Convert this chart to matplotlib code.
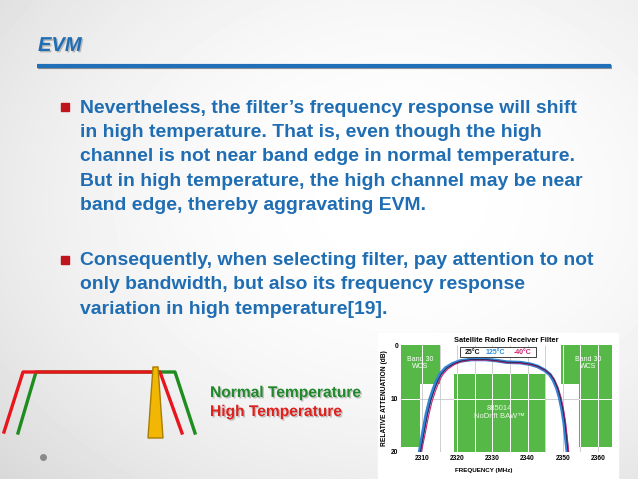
import numpy as np
import matplotlib
matplotlib.use("Agg")
import matplotlib.pyplot as plt
import matplotlib.patheffects as pe
from matplotlib.patches import Rectangle, Polygon

plt.rcParams['font.family'] = ['Liberation Sans', 'DejaVu Sans']

# ---- slide text ----
title = "EVM"
bullet1 = ["Nevertheless, the filter\u2019s frequency response will shift",
           "in high temperature. That is, even though the high",
           "channel is not near band edge in normal temperature.",
           "But in high temperature, the high channel may be near",
           "band edge, thereby aggravating EVM."]
bullet2 = ["Consequently, when selecting filter, pay attention to not",
           "only bandwidth, but also its frequency response",
           "variation in high temperature[19]."]
legend_labels = ["Normal Temperature", "High Temperature"]

# ---- sketch (band edges at normal / high temperature) ----
normal_x = [18, 36, 175, 195]
normal_y = [7, 68, 68, 7]
high_x = [4, 23, 160, 182]
high_y = [8, 68, 68, 7]
channel_x = [148, 153, 158, 163]
channel_y = [2, 73, 73, 2]

# ---- filter chart data ----
chart_title = "Satellite Radio Receiver Filter"
freq_ticks = [2310, 2320, 2330, 2340, 2350, 2360]
att_ticks = [0, 10, 20]
block_left = [2304, 2304, 2349.5, 2354.5, 2319.2]
block_right = [2315, 2309.3, 2364, 2364, 2345]
block_top = [0, 0, 0, 0, 5.4]
block_bottom = [7.3, 19, 7.3, 19, 20]

f_25 = [2309.5, 2310.5, 2311.5, 2312.5, 2313.5, 2314.5, 2315.5, 2317, 2319, 2321,
        2324, 2328, 2331, 2334, 2338, 2341, 2343, 2345, 2346.5, 2347.5, 2348.5,
        2349.3, 2350, 2350.6, 2351.1, 2351.5]
a_25 = [20, 16.5, 13, 10.3, 8.3, 6.6, 5.4, 4.3, 3.5, 3.0, 2.7, 2.7, 2.9, 3.2, 3.3,
        3.6, 4.0, 4.7, 5.5, 6.5, 8.0, 9.8, 12, 14.5, 17.5, 20]
f_125 = [2309.3, 2310.2, 2311.2, 2312.2, 2313.2, 2314.2, 2315.2, 2316.7, 2318.7, 2320.8,
         2324, 2328, 2331, 2334, 2338, 2340.8, 2342.8, 2344.8, 2346.3, 2347.3, 2348.3,
         2349.1, 2349.8, 2350.4, 2350.9, 2351.3]
a_125 = [20, 16.5, 13, 10.3, 8.3, 6.6, 5.4, 4.3, 3.5, 3.0, 2.7, 2.7, 2.9, 3.2, 3.3,
         3.6, 4.0, 4.7, 5.5, 6.5, 8.0, 9.8, 12, 14.5, 17.5, 20]
f_m40 = [2309.8, 2310.8, 2311.8, 2312.8, 2313.8, 2314.8, 2315.8, 2317.3, 2319.3, 2321.2,
         2324, 2328, 2331, 2334, 2338, 2341.2, 2343.2, 2345.2, 2346.7, 2347.7, 2348.7,
         2349.5, 2350.2, 2350.8, 2351.3, 2351.7]
a_m40 = [20, 16.8, 13.4, 10.6, 8.6, 6.9, 5.6, 4.5, 3.6, 3.1, 2.8, 2.8, 3.0, 3.3, 3.4,
         3.7, 4.1, 4.8, 5.6, 6.6, 8.1, 9.9, 12, 14.5, 17.5, 20]
temp_labels = ["25\u00b0C", "125\u00b0C", "-40\u00b0C"]
temp_colors = ["#111111", "#2b8fd6", "#d2206e"]
temp_pos = [2324.2, 2330.7, 2338.7]

blue = "#1f6db3"
green_fill = "#56b947"

fig = plt.figure(figsize=(6.38, 4.79), dpi=100)

# background slide in pixel coordinates
ax = fig.add_axes([0, 0, 1, 1])
ax.set_xlim(0, 638)
ax.set_ylim(479, 0)
ax.axis('off')
yy, xx = np.mgrid[0:479, 0:638]
r = np.hypot((xx - 400) / 500, (yy - 200) / 380)
shade = np.clip(1.0 - 0.13 * r ** 2, 0.84, 1.0)
ax.imshow(shade, cmap='gray', vmin=0, vmax=1, extent=(0, 638, 479, 0), aspect='auto', zorder=0)

shadow = [pe.withSimplePatchShadow(offset=(1, -1), shadow_rgbFace='#555555', alpha=0.35)]
ax.text(38, 51, title, fontsize=14.5, fontweight='heavy', fontstyle='italic', color=blue,
        va='baseline', path_effects=shadow)
ax.plot([37, 611], [65.5, 65.5], color="#1f70b8", lw=3, solid_capstyle='butt',
        path_effects=[pe.SimpleLineShadow(offset=(1, -1), alpha=0.4), pe.Normal()])

for i, line in enumerate(bullet1):
    ax.text(80, 112.5 + i * 24.4, line, fontsize=13.95, fontweight='bold', color=blue, va='baseline')
for i, line in enumerate(bullet2):
    ax.text(80, 265 + i * 24.4, line, fontsize=13.95, fontweight='bold', color=blue, va='baseline')
for yb in [103, 256]:
    ax.add_patch(Rectangle((61, yb), 8, 8, color='#c0141c', zorder=3))

ax.text(210, 397, legend_labels[0], fontsize=11.2, fontweight='bold', color='#1f8a2a',
        va='baseline', path_effects=shadow)
ax.text(210, 416, legend_labels[1], fontsize=11.2, fontweight='bold', color='#e0201c',
        va='baseline', path_effects=shadow)
ax.plot([43], [457], 'o', color='#8a8a8a', ms=4)

# white area of the embedded chart picture
ax.add_patch(Rectangle((378, 333), 240, 146, color='white', zorder=1))

# sketch
sk = fig.add_axes([0, 39 / 479, 200 / 638, 80 / 479])
sk.set_xlim(0, 200)
sk.set_ylim(0, 80)
sk.axis('off')
sk.plot(normal_x, normal_y, color='#1e8c1e', lw=2.4, zorder=2)
sk.plot(high_x, high_y, color='#e8161c', lw=2.4, zorder=3)
sk.add_patch(Polygon(list(zip(channel_x, channel_y)), closed=True, facecolor='#f2b705',
                     edgecolor='#a87c00', lw=1, zorder=4))

# filter chart
ch = fig.add_axes([401 / 638, 27 / 479, 211 / 638, 107 / 479])
ch.set_xlim(2304, 2364)
ch.set_ylim(20, 0)
ch.set_facecolor('white')
for s in ch.spines.values():
    s.set_visible(False)
grid_f = np.arange(2310, 2361, 5)
ch.vlines(grid_f, 0, 20, color='#c8c8c8', lw=0.6, zorder=0.5)
ch.hlines([10], 2304, 2364, color='#c8c8c8', lw=0.6, zorder=0.5)
widths = [b - a for a, b in zip(block_left, block_right)]
heights = [b - t for t, b in zip(block_top, block_bottom)]
bars = ch.bar(block_left, heights, width=widths, bottom=block_top, align='edge',
              color=green_fill, zorder=1)
for patch in bars.patches:
    vl = ch.vlines(grid_f, 0, 20, color='white', lw=0.7, zorder=1.5)
    vl.set_clip_path(patch)
    hl = ch.hlines([10], 2304, 2364, color='white', lw=0.7, zorder=1.5)
    hl.set_clip_path(patch)

ch.plot(f_125, a_125, color='#3384d4', lw=2.6, zorder=3)
ch.plot(f_m40, a_m40, color='#d2206e', lw=0.8, zorder=3.2)
ch.plot(f_25, a_25, color='#23234a', lw=0.6, zorder=3.4)

ch.add_patch(Rectangle((2320.8, 0.4), 21.6, 1.8, facecolor='white', edgecolor='#222222',
                       lw=0.6, zorder=4))
for lab, col, xp in zip(temp_labels, temp_colors, temp_pos):
    ch.text(xp, 1.35, lab, color=col, fontsize=5, fontweight='bold', ha='center',
            va='center', zorder=5)

ch.text(2309.5, 3.4, "Band 30\nWCS", color='white', fontsize=5, ha='center', va='center',
        linespacing=1.0, zorder=2)
ch.text(2357.2, 3.4, "Band 30\nWCS", color='white', fontsize=5, ha='center', va='center',
        linespacing=1.0, zorder=2)
ch.text(2332, 12.6, "885014\nNoDrift BAW\u2122", color='#eef6e6', fontsize=5.5, ha='center',
        va='center', linespacing=1.1, zorder=2)

ch.set_xticks(freq_ticks)
ch.set_yticks(att_ticks)
ch.tick_params(length=0, labelsize=4.8, pad=2)
for t in ch.get_xticklabels() + ch.get_yticklabels():
    t.set_fontweight('bold')
ch.set_title(chart_title, fontsize=5.3, fontweight='bold', pad=2)
ch.set_xlabel("FREQUENCY (MHz)", fontsize=4.5, fontweight='bold', labelpad=2)
ch.xaxis.set_label_coords(0.39, -0.15)
ch.set_ylabel("RELATIVE ATTENUATION (dB)", fontsize=4.8, fontweight='bold', labelpad=2)

fig.savefig("out.png", dpi=100)
